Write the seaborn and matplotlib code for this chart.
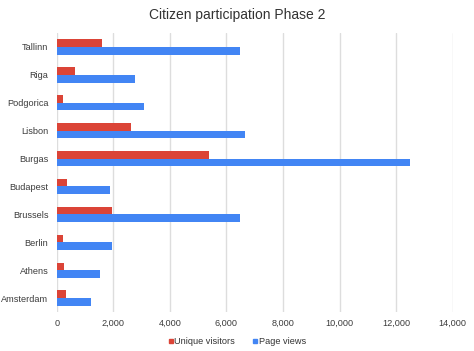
import pandas as pd
import matplotlib
matplotlib.use('Agg')
import matplotlib.pyplot as plt
import seaborn as sns
from matplotlib.ticker import FuncFormatter

cities = ['Tallinn', 'Riga', 'Podgorica', 'Lisbon', 'Burgas',
          'Budapest', 'Brussels', 'Berlin', 'Athens', 'Amsterdam']
unique_visitors = [1600, 630, 240, 2630, 5400, 380, 1950, 210, 270, 320]
page_views = [6480, 2770, 3090, 6660, 12500, 1880, 6480, 1950, 1520, 1210]
series = ['Unique visitors', 'Page views']
colors = ['#DB4437', '#4285F4']

df = pd.DataFrame({
    'city': cities * 2,
    'value': unique_visitors + page_views,
    'series': [series[0]] * len(cities) + [series[1]] * len(cities),
})

sns.set_style('white')
plt.rcParams['font.family'] = ['Liberation Sans', 'DejaVu Sans']

fig = plt.figure(figsize=(4.74, 3.51), dpi=100)
ax = fig.add_axes([0.1196, 0.111, 0.8354, 0.795])

sns.barplot(data=df, y='city', x='value', hue='series', order=cities,
            hue_order=series, palette=colors, width=0.55, orient='h',
            saturation=1, linewidth=0, ax=ax, legend=False)

ax.set_xlim(0, 14000)
ax.set_xticks(range(0, 14001, 2000))
ax.xaxis.set_major_formatter(FuncFormatter(lambda v, p: f'{int(v):,}'))
ax.grid(axis='x', color='#dddddd', linewidth=1)
ax.set_axisbelow(True)
for s in ax.spines.values():
    s.set_visible(False)
ax.tick_params(axis='both', length=0, labelsize=6.6, colors='#3c3c3c')
ax.tick_params(axis='x', pad=5)
ax.tick_params(axis='y', pad=6)
ax.set_xlabel('')
ax.set_ylabel('')

fig.text(0.5, 0.957, 'Citizen participation Phase 2', ha='center', va='center',
         fontsize=10, color='#333333')

handles = [plt.Line2D([], [], marker='s', linestyle='', markersize=3, color=c)
           for c in colors]
fig.legend(handles, series, loc='center', bbox_to_anchor=(0.5, 0.027), ncol=2,
           frameon=False, fontsize=6.6, handlelength=0.6, handletextpad=0.1,
           columnspacing=1.9, labelcolor='#333333')

fig.savefig('out.png', dpi=100)
